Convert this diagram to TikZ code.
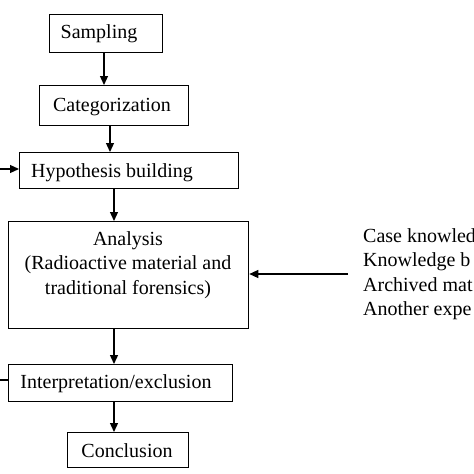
\documentclass[tikz,border=0pt]{standalone}
\usepackage{fontspec}
\setmainfont{Liberation Serif}
\usetikzlibrary{arrows.meta}
\begin{document}
\begin{tikzpicture}[x=1pt,y=-1pt,
  box/.style={draw,line width=1.3pt,inner sep=0pt,anchor=north west},
  lbl/.style={inner sep=0pt,font=\fontsize{20}{24}\selectfont,align=center},
  arr/.style={line width=1.3pt,-{Triangle[length=9pt,width=8pt]}},
  ln/.style={line width=1.3pt}]
\useasboundingbox (0,0) rectangle (474,474);
\clip (0,0) rectangle (474,474);
\fill[white] (0,0) rectangle (474,474);
% boxes
\node[box,minimum width=113pt,minimum height=38pt] (samp) at (49,14) {};
\node[box,minimum width=149pt,minimum height=40pt] (cat) at (39,85) {};
\node[box,minimum width=219pt,minimum height=36pt] (hyp) at (19,152) {};
\node[box,minimum width=240pt,minimum height=107pt] (ana) at (8,221) {};
\node[box,minimum width=224pt,minimum height=37pt] (int) at (8,364) {};
\node[box,minimum width=121pt,minimum height=35pt] (con) at (67,432) {};
% texts
\node[lbl] (tsamp) at (99,34) {Sampling};
\node[lbl] (tcat) at (112,107) {Categorization};
\node[lbl] (thyp) at (112,173) {Hypothesis building};
\node[lbl,anchor=north,font=\fontsize{20}{24.5}\selectfont] (tana) at (128,231) {Analysis\\(Radioactive material and\\traditional forensics)};
\node[lbl] (tint) at (116,384) {Interpretation/exclusion};
\node[lbl] (tcon) at (127,451) {Conclusion};
\node[lbl,anchor=north west,align=left,font=\fontsize{20}{24.5}\selectfont] (know) at (363,228) {Case knowled\\Knowledge b\\Archived mat\\Another expe};
% connectors
\draw[arr] (samp.south -| 104,0) -- (cat.north -| 104,0);
\draw[arr] (cat.south -| 110,0) -- (hyp.north -| 110,0);
\draw[arr] (hyp.south -| 114,0) -- (ana.north -| 114,0);
\draw[arr] (ana.south -| 114,0) -- (int.north -| 114,0);
\draw[arr] (int.south -| 114,0) -- (con.north -| 114,0);
\coordinate (inL) at (0,169);
\draw[arr] (inL) -- (hyp.west |- inL);
\coordinate (outL) at (0,380);
\draw[ln] (int.west |- outL) -- (outL);
\coordinate (kin) at (348,274);
\draw[arr] (kin) -- (ana.east |- kin);
\end{tikzpicture}
\end{document}
